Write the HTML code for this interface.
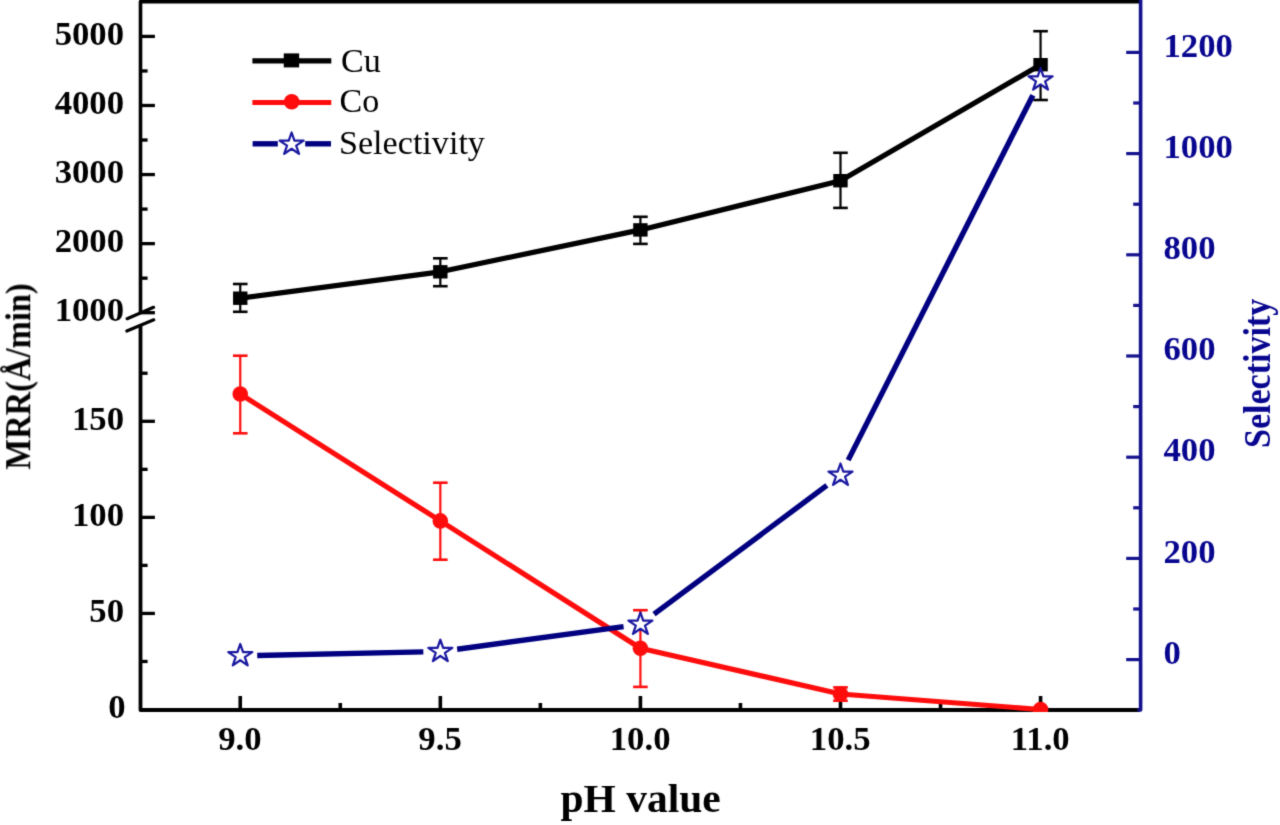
<!DOCTYPE html>
<html><head><meta charset="utf-8"><title>MRR vs pH</title>
<style>html,body{margin:0;padding:0;background:#fff;width:1280px;height:825px;overflow:hidden}svg{display:block}text{font-family:"Liberation Serif",serif}</style>
</head><body><svg width="1280" height="825" viewBox="0 0 1280 825"><defs><filter id="bl" x="0" y="0" width="1280" height="825" filterUnits="userSpaceOnUse" color-interpolation-filters="sRGB"><feConvolveMatrix order="3" kernelMatrix="0.01917 0.10012 0.01917 0.10012 0.52283 0.10012 0.01917 0.10012 0.01917" edgeMode="duplicate" preserveAlpha="true"/></filter></defs><g filter="url(#bl)"><rect width="1280" height="825" fill="#fff"/><line x1="140.5" y1="312.70" x2="154.9" y2="312.70" stroke="#000" stroke-width="3.3"/><line x1="140.5" y1="243.63" x2="154.9" y2="243.63" stroke="#000" stroke-width="3.3"/><line x1="140.5" y1="174.56" x2="154.9" y2="174.56" stroke="#000" stroke-width="3.3"/><line x1="140.5" y1="105.49" x2="154.9" y2="105.49" stroke="#000" stroke-width="3.3"/><line x1="140.5" y1="36.42" x2="154.9" y2="36.42" stroke="#000" stroke-width="3.3"/><line x1="140.5" y1="278.16" x2="147.6" y2="278.16" stroke="#000" stroke-width="3.3"/><line x1="140.5" y1="209.09" x2="147.6" y2="209.09" stroke="#000" stroke-width="3.3"/><line x1="140.5" y1="140.03" x2="147.6" y2="140.03" stroke="#000" stroke-width="3.3"/><line x1="140.5" y1="70.96" x2="147.6" y2="70.96" stroke="#000" stroke-width="3.3"/><line x1="140.5" y1="613.43" x2="154.9" y2="613.43" stroke="#000" stroke-width="3.3"/><line x1="140.5" y1="517.36" x2="154.9" y2="517.36" stroke="#000" stroke-width="3.3"/><line x1="140.5" y1="421.29" x2="154.9" y2="421.29" stroke="#000" stroke-width="3.3"/><line x1="140.5" y1="661.47" x2="147.6" y2="661.47" stroke="#000" stroke-width="3.3"/><line x1="140.5" y1="565.39" x2="147.6" y2="565.39" stroke="#000" stroke-width="3.3"/><line x1="140.5" y1="469.33" x2="147.6" y2="469.33" stroke="#000" stroke-width="3.3"/><line x1="140.5" y1="373.25" x2="147.6" y2="373.25" stroke="#000" stroke-width="3.3"/><line x1="240.25" y1="709.5" x2="240.25" y2="696" stroke="#000" stroke-width="3.6"/><line x1="440.33" y1="709.5" x2="440.33" y2="696" stroke="#000" stroke-width="3.6"/><line x1="640.41" y1="709.5" x2="640.41" y2="696" stroke="#000" stroke-width="3.6"/><line x1="840.49" y1="709.5" x2="840.49" y2="696" stroke="#000" stroke-width="3.6"/><line x1="1040.57" y1="709.5" x2="1040.57" y2="696" stroke="#000" stroke-width="3.6"/><line x1="340.29" y1="709.5" x2="340.29" y2="703" stroke="#000" stroke-width="3.6"/><line x1="540.37" y1="709.5" x2="540.37" y2="703" stroke="#000" stroke-width="3.6"/><line x1="740.45" y1="709.5" x2="740.45" y2="703" stroke="#000" stroke-width="3.6"/><line x1="940.53" y1="709.5" x2="940.53" y2="703" stroke="#000" stroke-width="3.6"/><line x1="1140.6" y1="659.60" x2="1126.2" y2="659.60" stroke="#14128e" stroke-width="3.2"/><line x1="1140.6" y1="558.40" x2="1126.2" y2="558.40" stroke="#14128e" stroke-width="3.2"/><line x1="1140.6" y1="457.20" x2="1126.2" y2="457.20" stroke="#14128e" stroke-width="3.2"/><line x1="1140.6" y1="356.00" x2="1126.2" y2="356.00" stroke="#14128e" stroke-width="3.2"/><line x1="1140.6" y1="254.80" x2="1126.2" y2="254.80" stroke="#14128e" stroke-width="3.2"/><line x1="1140.6" y1="153.60" x2="1126.2" y2="153.60" stroke="#14128e" stroke-width="3.2"/><line x1="1140.6" y1="52.40" x2="1126.2" y2="52.40" stroke="#14128e" stroke-width="3.2"/><line x1="1140.6" y1="609.00" x2="1133.2" y2="609.00" stroke="#14128e" stroke-width="3.2"/><line x1="1140.6" y1="507.80" x2="1133.2" y2="507.80" stroke="#14128e" stroke-width="3.2"/><line x1="1140.6" y1="406.60" x2="1133.2" y2="406.60" stroke="#14128e" stroke-width="3.2"/><line x1="1140.6" y1="305.40" x2="1133.2" y2="305.40" stroke="#14128e" stroke-width="3.2"/><line x1="1140.6" y1="204.20" x2="1133.2" y2="204.20" stroke="#14128e" stroke-width="3.2"/><line x1="1140.6" y1="103.00" x2="1133.2" y2="103.00" stroke="#14128e" stroke-width="3.2"/><path d="M140.5,312.8 V1.65 H1140" fill="none" stroke="#000" stroke-width="3.6" stroke-linejoin="round"/><path d="M140.5,324.8 V710.0 H1140" fill="none" stroke="#000" stroke-width="3.8" stroke-linejoin="round"/><path d="M1140.6,0 V710.0 H1137.5" fill="none" stroke="#14128e" stroke-width="3.6" stroke-linejoin="round"/><line x1="127.1" y1="318.7" x2="153.6" y2="307.3" stroke="#000" stroke-width="3.2" stroke-linecap="round"/><line x1="126.8" y1="331.0" x2="153.8" y2="319.8" stroke="#000" stroke-width="3.2" stroke-linecap="round"/><defs><clipPath id="pa"><rect x="138" y="0" width="1004" height="711.9"/></clipPath></defs><g clip-path="url(#pa)"><line x1="240.25" y1="284.0" x2="240.25" y2="311.8" stroke="#000" stroke-width="2.2"/><line x1="232.95" y1="284.0" x2="247.55" y2="284.0" stroke="#000" stroke-width="2.6"/><line x1="232.95" y1="311.8" x2="247.55" y2="311.8" stroke="#000" stroke-width="2.6"/><line x1="440.33" y1="258.3" x2="440.33" y2="286.2" stroke="#000" stroke-width="2.2"/><line x1="433.03" y1="258.3" x2="447.63" y2="258.3" stroke="#000" stroke-width="2.6"/><line x1="433.03" y1="286.2" x2="447.63" y2="286.2" stroke="#000" stroke-width="2.6"/><line x1="640.41" y1="216.8" x2="640.41" y2="243.9" stroke="#000" stroke-width="2.2"/><line x1="633.11" y1="216.8" x2="647.71" y2="216.8" stroke="#000" stroke-width="2.6"/><line x1="633.11" y1="243.9" x2="647.71" y2="243.9" stroke="#000" stroke-width="2.6"/><line x1="840.49" y1="152.8" x2="840.49" y2="207.9" stroke="#000" stroke-width="2.2"/><line x1="833.19" y1="152.8" x2="847.79" y2="152.8" stroke="#000" stroke-width="2.6"/><line x1="833.19" y1="207.9" x2="847.79" y2="207.9" stroke="#000" stroke-width="2.6"/><line x1="1040.57" y1="31.2" x2="1040.57" y2="100.0" stroke="#000" stroke-width="2.2"/><line x1="1033.27" y1="31.2" x2="1047.87" y2="31.2" stroke="#000" stroke-width="2.6"/><line x1="1033.27" y1="100.0" x2="1047.87" y2="100.0" stroke="#000" stroke-width="2.6"/><polyline points="240.25,298.20 440.33,271.80 640.41,229.90 840.49,180.70 1040.57,64.70" fill="none" stroke="#000" stroke-width="5.2" stroke-linejoin="round"/><rect x="233.05" y="291.50" width="14.4" height="13.4" fill="#000"/><rect x="433.13" y="265.10" width="14.4" height="13.4" fill="#000"/><rect x="633.21" y="223.20" width="14.4" height="13.4" fill="#000"/><rect x="833.29" y="174.00" width="14.4" height="13.4" fill="#000"/><rect x="1033.37" y="58.00" width="14.4" height="13.4" fill="#000"/><line x1="240.25" y1="355.7" x2="240.25" y2="433.3" stroke="#ff0d0d" stroke-width="2.2"/><line x1="232.95" y1="355.7" x2="247.55" y2="355.7" stroke="#ff0d0d" stroke-width="2.6"/><line x1="232.95" y1="433.3" x2="247.55" y2="433.3" stroke="#ff0d0d" stroke-width="2.6"/><line x1="440.33" y1="482.7" x2="440.33" y2="559.7" stroke="#ff0d0d" stroke-width="2.2"/><line x1="433.03" y1="482.7" x2="447.63" y2="482.7" stroke="#ff0d0d" stroke-width="2.6"/><line x1="433.03" y1="559.7" x2="447.63" y2="559.7" stroke="#ff0d0d" stroke-width="2.6"/><line x1="640.41" y1="610.2" x2="640.41" y2="686.9" stroke="#ff0d0d" stroke-width="2.2"/><line x1="633.11" y1="610.2" x2="647.71" y2="610.2" stroke="#ff0d0d" stroke-width="2.6"/><line x1="633.11" y1="686.9" x2="647.71" y2="686.9" stroke="#ff0d0d" stroke-width="2.6"/><line x1="840.49" y1="687.4" x2="840.49" y2="700.7" stroke="#ff0d0d" stroke-width="2.2"/><line x1="833.19" y1="687.4" x2="847.79" y2="687.4" stroke="#ff0d0d" stroke-width="2.6"/><line x1="833.19" y1="700.7" x2="847.79" y2="700.7" stroke="#ff0d0d" stroke-width="2.6"/><polyline points="240.25,394.00 440.33,520.90 640.41,648.20 840.49,694.00 1040.57,709.50" fill="none" stroke="#ff0d0d" stroke-width="5.2" stroke-linejoin="round"/><circle cx="240.25" cy="394.00" r="7.8" fill="#ff0d0d"/><circle cx="440.33" cy="520.90" r="7.8" fill="#ff0d0d"/><circle cx="640.41" cy="648.20" r="7.8" fill="#ff0d0d"/><circle cx="840.49" cy="694.00" r="7.8" fill="#ff0d0d"/><circle cx="1040.57" cy="709.50" r="7.8" fill="#ff0d0d"/><line x1="257.25" y1="655.43" x2="423.33" y2="651.87" stroke="#000080" stroke-width="5.4"/><line x1="457.18" y1="649.21" x2="623.56" y2="626.59" stroke="#000080" stroke-width="5.4"/><line x1="654.04" y1="614.15" x2="826.86" y2="485.45" stroke="#000080" stroke-width="5.4"/><line x1="848.17" y1="460.13" x2="1032.89" y2="95.17" stroke="#000080" stroke-width="5.4"/><polygon points="240.25,644.00 243.08,652.16 252.26,652.15 244.83,657.19 247.67,665.35 240.25,660.30 232.83,665.35 235.67,657.19 228.24,652.15 237.42,652.16" fill="#fff" stroke="#1a18a0" stroke-width="2.25" stroke-linejoin="round"/><polygon points="440.33,639.70 443.16,647.86 452.34,647.85 444.91,652.89 447.75,661.05 440.33,656.00 432.91,661.05 435.75,652.89 428.32,647.85 437.50,647.86" fill="#fff" stroke="#1a18a0" stroke-width="2.25" stroke-linejoin="round"/><polygon points="640.41,612.50 643.24,620.66 652.42,620.65 644.99,625.69 647.83,633.85 640.41,628.80 632.99,633.85 635.83,625.69 628.40,620.65 637.58,620.66" fill="#fff" stroke="#1a18a0" stroke-width="2.25" stroke-linejoin="round"/><polygon points="840.49,463.50 843.32,471.66 852.50,471.65 845.07,476.69 847.91,484.85 840.49,479.80 833.07,484.85 835.91,476.69 828.48,471.65 837.66,471.66" fill="#fff" stroke="#1a18a0" stroke-width="2.25" stroke-linejoin="round"/><polygon points="1040.57,68.20 1043.40,76.36 1052.58,76.35 1045.15,81.39 1047.99,89.55 1040.57,84.50 1033.15,89.55 1035.99,81.39 1028.56,76.35 1037.74,76.36" fill="#fff" stroke="#1a18a0" stroke-width="2.25" stroke-linejoin="round"/></g><text transform="translate(124.10,321.30) scale(1.01,1)" font-family="Liberation Serif" font-weight="bold" font-size="34.4" text-anchor="end" fill="#000">1000</text><text transform="translate(124.10,252.23) scale(1.01,1)" font-family="Liberation Serif" font-weight="bold" font-size="34.4" text-anchor="end" fill="#000">2000</text><text transform="translate(124.10,183.16) scale(1.01,1)" font-family="Liberation Serif" font-weight="bold" font-size="34.4" text-anchor="end" fill="#000">3000</text><text transform="translate(124.10,114.09) scale(1.01,1)" font-family="Liberation Serif" font-weight="bold" font-size="34.4" text-anchor="end" fill="#000">4000</text><text transform="translate(124.10,45.02) scale(1.01,1)" font-family="Liberation Serif" font-weight="bold" font-size="34.4" text-anchor="end" fill="#000">5000</text><text transform="translate(124.10,622.03) scale(1.01,1)" font-family="Liberation Serif" font-weight="bold" font-size="34.4" text-anchor="end" fill="#000">50</text><text transform="translate(124.10,525.96) scale(1.01,1)" font-family="Liberation Serif" font-weight="bold" font-size="34.4" text-anchor="end" fill="#000">100</text><text transform="translate(124.10,429.89) scale(1.01,1)" font-family="Liberation Serif" font-weight="bold" font-size="34.4" text-anchor="end" fill="#000">150</text><text transform="translate(125.60,718.10) scale(1.01,1)" font-family="Liberation Serif" font-weight="bold" font-size="34.4" text-anchor="end" fill="#000">0</text><text transform="translate(1163.50,663.70) scale(1.01,1)" font-family="Liberation Serif" font-weight="bold" font-size="34.4" text-anchor="start" fill="#08068f">0</text><text transform="translate(1163.50,562.50) scale(1.01,1)" font-family="Liberation Serif" font-weight="bold" font-size="34.4" text-anchor="start" fill="#08068f">200</text><text transform="translate(1163.50,461.30) scale(1.01,1)" font-family="Liberation Serif" font-weight="bold" font-size="34.4" text-anchor="start" fill="#08068f">400</text><text transform="translate(1163.50,360.10) scale(1.01,1)" font-family="Liberation Serif" font-weight="bold" font-size="34.4" text-anchor="start" fill="#08068f">600</text><text transform="translate(1163.50,258.90) scale(1.01,1)" font-family="Liberation Serif" font-weight="bold" font-size="34.4" text-anchor="start" fill="#08068f">800</text><text transform="translate(1163.50,157.70) scale(1.01,1)" font-family="Liberation Serif" font-weight="bold" font-size="34.4" text-anchor="start" fill="#08068f">1000</text><text transform="translate(1163.50,56.50) scale(1.01,1)" font-family="Liberation Serif" font-weight="bold" font-size="34.4" text-anchor="start" fill="#08068f">1200</text><text transform="translate(239.95,750.20) scale(1.01,1)" font-family="Liberation Serif" font-weight="bold" font-size="34.4" text-anchor="middle" fill="#000">9.0</text><text transform="translate(440.03,750.20) scale(1.01,1)" font-family="Liberation Serif" font-weight="bold" font-size="34.4" text-anchor="middle" fill="#000">9.5</text><text transform="translate(640.11,750.20) scale(1.01,1)" font-family="Liberation Serif" font-weight="bold" font-size="34.4" text-anchor="middle" fill="#000">10.0</text><text transform="translate(840.19,750.20) scale(1.01,1)" font-family="Liberation Serif" font-weight="bold" font-size="34.4" text-anchor="middle" fill="#000">10.5</text><text transform="translate(1040.27,750.20) scale(1.01,1)" font-family="Liberation Serif" font-weight="bold" font-size="34.4" text-anchor="middle" fill="#000">11.0</text><text transform="translate(640.6,811.7) scale(1.03,1)" font-family="Liberation Serif" font-weight="bold" font-size="40.3" text-anchor="middle">pH value</text><text transform="translate(30.3,376.4) rotate(-90) scale(1,1.10)" font-family="Liberation Serif" font-weight="bold" font-size="32.6" text-anchor="middle">MRR(Å/min)</text><text transform="translate(1270.1,373.3) rotate(-90) scale(1,1.10)" font-family="Liberation Serif" font-weight="bold" font-size="34.07" text-anchor="middle" fill="#08068f">Selectivity</text><line x1="252.4" y1="60.9" x2="331.3" y2="60.9" stroke="#000" stroke-width="5.2"/><rect x="283.75" y="53.4" width="15.4" height="14.0" fill="#000"/><text transform="translate(340.9,72.4) scale(1.027,1)" font-family="Liberation Serif" font-size="33.2">Cu</text><line x1="252.4" y1="102.5" x2="331.3" y2="102.5" stroke="#ff0d0d" stroke-width="5.2"/><circle cx="291.7" cy="101.8" r="7.8" fill="#ff0d0d"/><text transform="translate(339.6,112.4) scale(1.027,1)" font-family="Liberation Serif" font-size="33.2">Co</text><line x1="252.6" y1="143.8" x2="277.8" y2="143.8" stroke="#000080" stroke-width="5.4"/><line x1="305.2" y1="143.8" x2="331" y2="143.8" stroke="#000080" stroke-width="5.4"/><polygon points="291.60,132.50 294.43,140.66 303.61,140.65 296.18,145.69 299.02,153.85 291.60,148.80 284.18,153.85 287.02,145.69 279.59,140.65 288.77,140.66" fill="#fff" stroke="#1a18a0" stroke-width="2.25" stroke-linejoin="round"/><text transform="translate(339.0,154.1) scale(1.028,1)" font-family="Liberation Serif" font-size="33.2">Selectivity</text></g></svg></body></html>
